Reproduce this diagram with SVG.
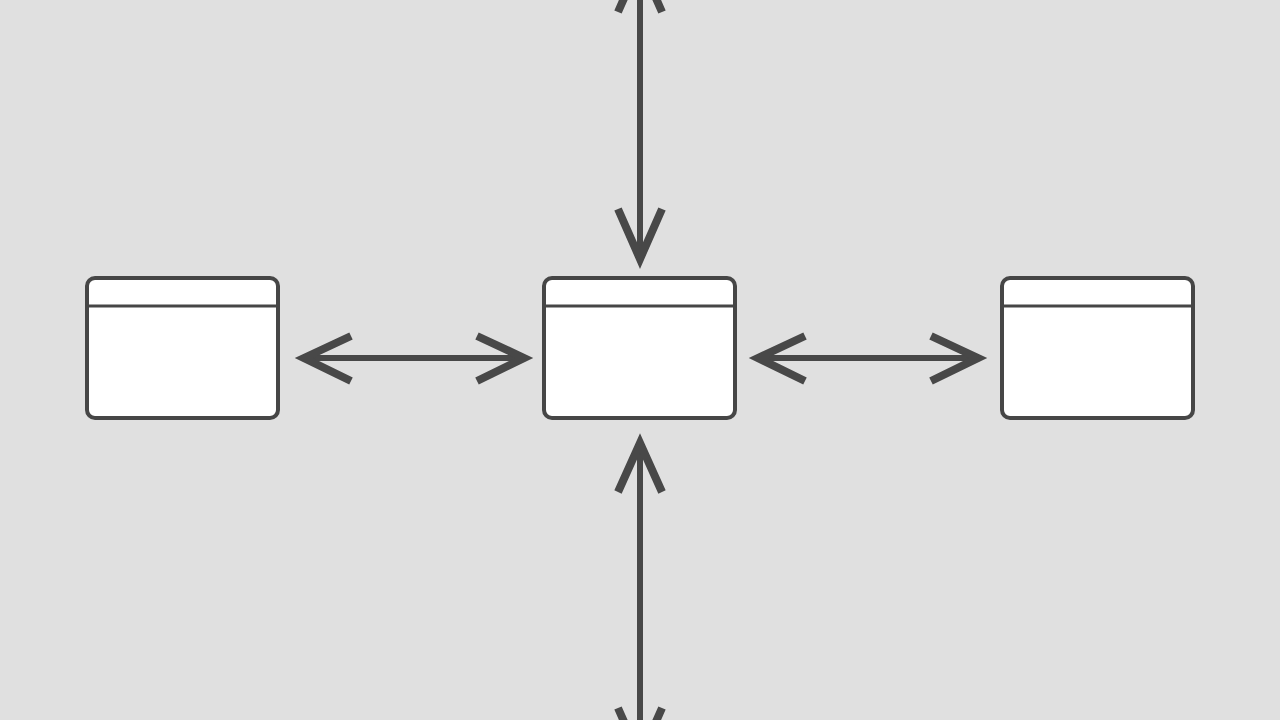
<svg xmlns="http://www.w3.org/2000/svg" width="1280" height="720" viewBox="0 0 1280 720">
<style>
.box{fill:#fff;stroke:#464646;stroke-width:4}
.hdr{stroke:#464646;stroke-width:3}
.ln{stroke:#484848;stroke-width:6;fill:none}
.hd{stroke:#484848;stroke-width:8;fill:none;stroke-linejoin:miter;stroke-miterlimit:10}
</style>
<rect width="1280" height="720" fill="#e0e0e0"/>
<g id="left">
<rect class="box" x="87" y="278" width="191" height="140" rx="8"/>
<line class="hdr" x1="87" y1="306" x2="278" y2="306"/>
</g>
<g id="center">
<rect class="box" x="544" y="278" width="191" height="140" rx="8"/>
<line class="hdr" x1="544" y1="306" x2="735" y2="306"/>
</g>
<g id="right">
<rect class="box" x="1002" y="278" width="191" height="140" rx="8"/>
<line class="hdr" x1="1002" y1="306" x2="1193" y2="306"/>
</g>
<g id="connectors">
<line class="ln" x1="305" y1="358" x2="524" y2="358"/>
<polyline class="hd" points="351,336 304,358 351,381"/>
<polyline class="hd" points="477,336 524,358 477,381"/>
<line class="ln" x1="759" y1="358" x2="978" y2="358"/>
<polyline class="hd" points="805,336 758,358 805,381"/>
<polyline class="hd" points="931,336 978,358 931,381"/>
<line class="ln" x1="640" y1="-40" x2="640" y2="258"/>
<polyline class="hd" points="618,12 640,-38 662,12"/>
<polyline class="hd" points="618,209 640,259 662,209"/>
<line class="ln" x1="640" y1="444" x2="640" y2="760"/>
<polyline class="hd" points="618,492 640,443 662,492"/>
<polyline class="hd" points="618,708 640,758 662,708"/>
</g>
</svg>
